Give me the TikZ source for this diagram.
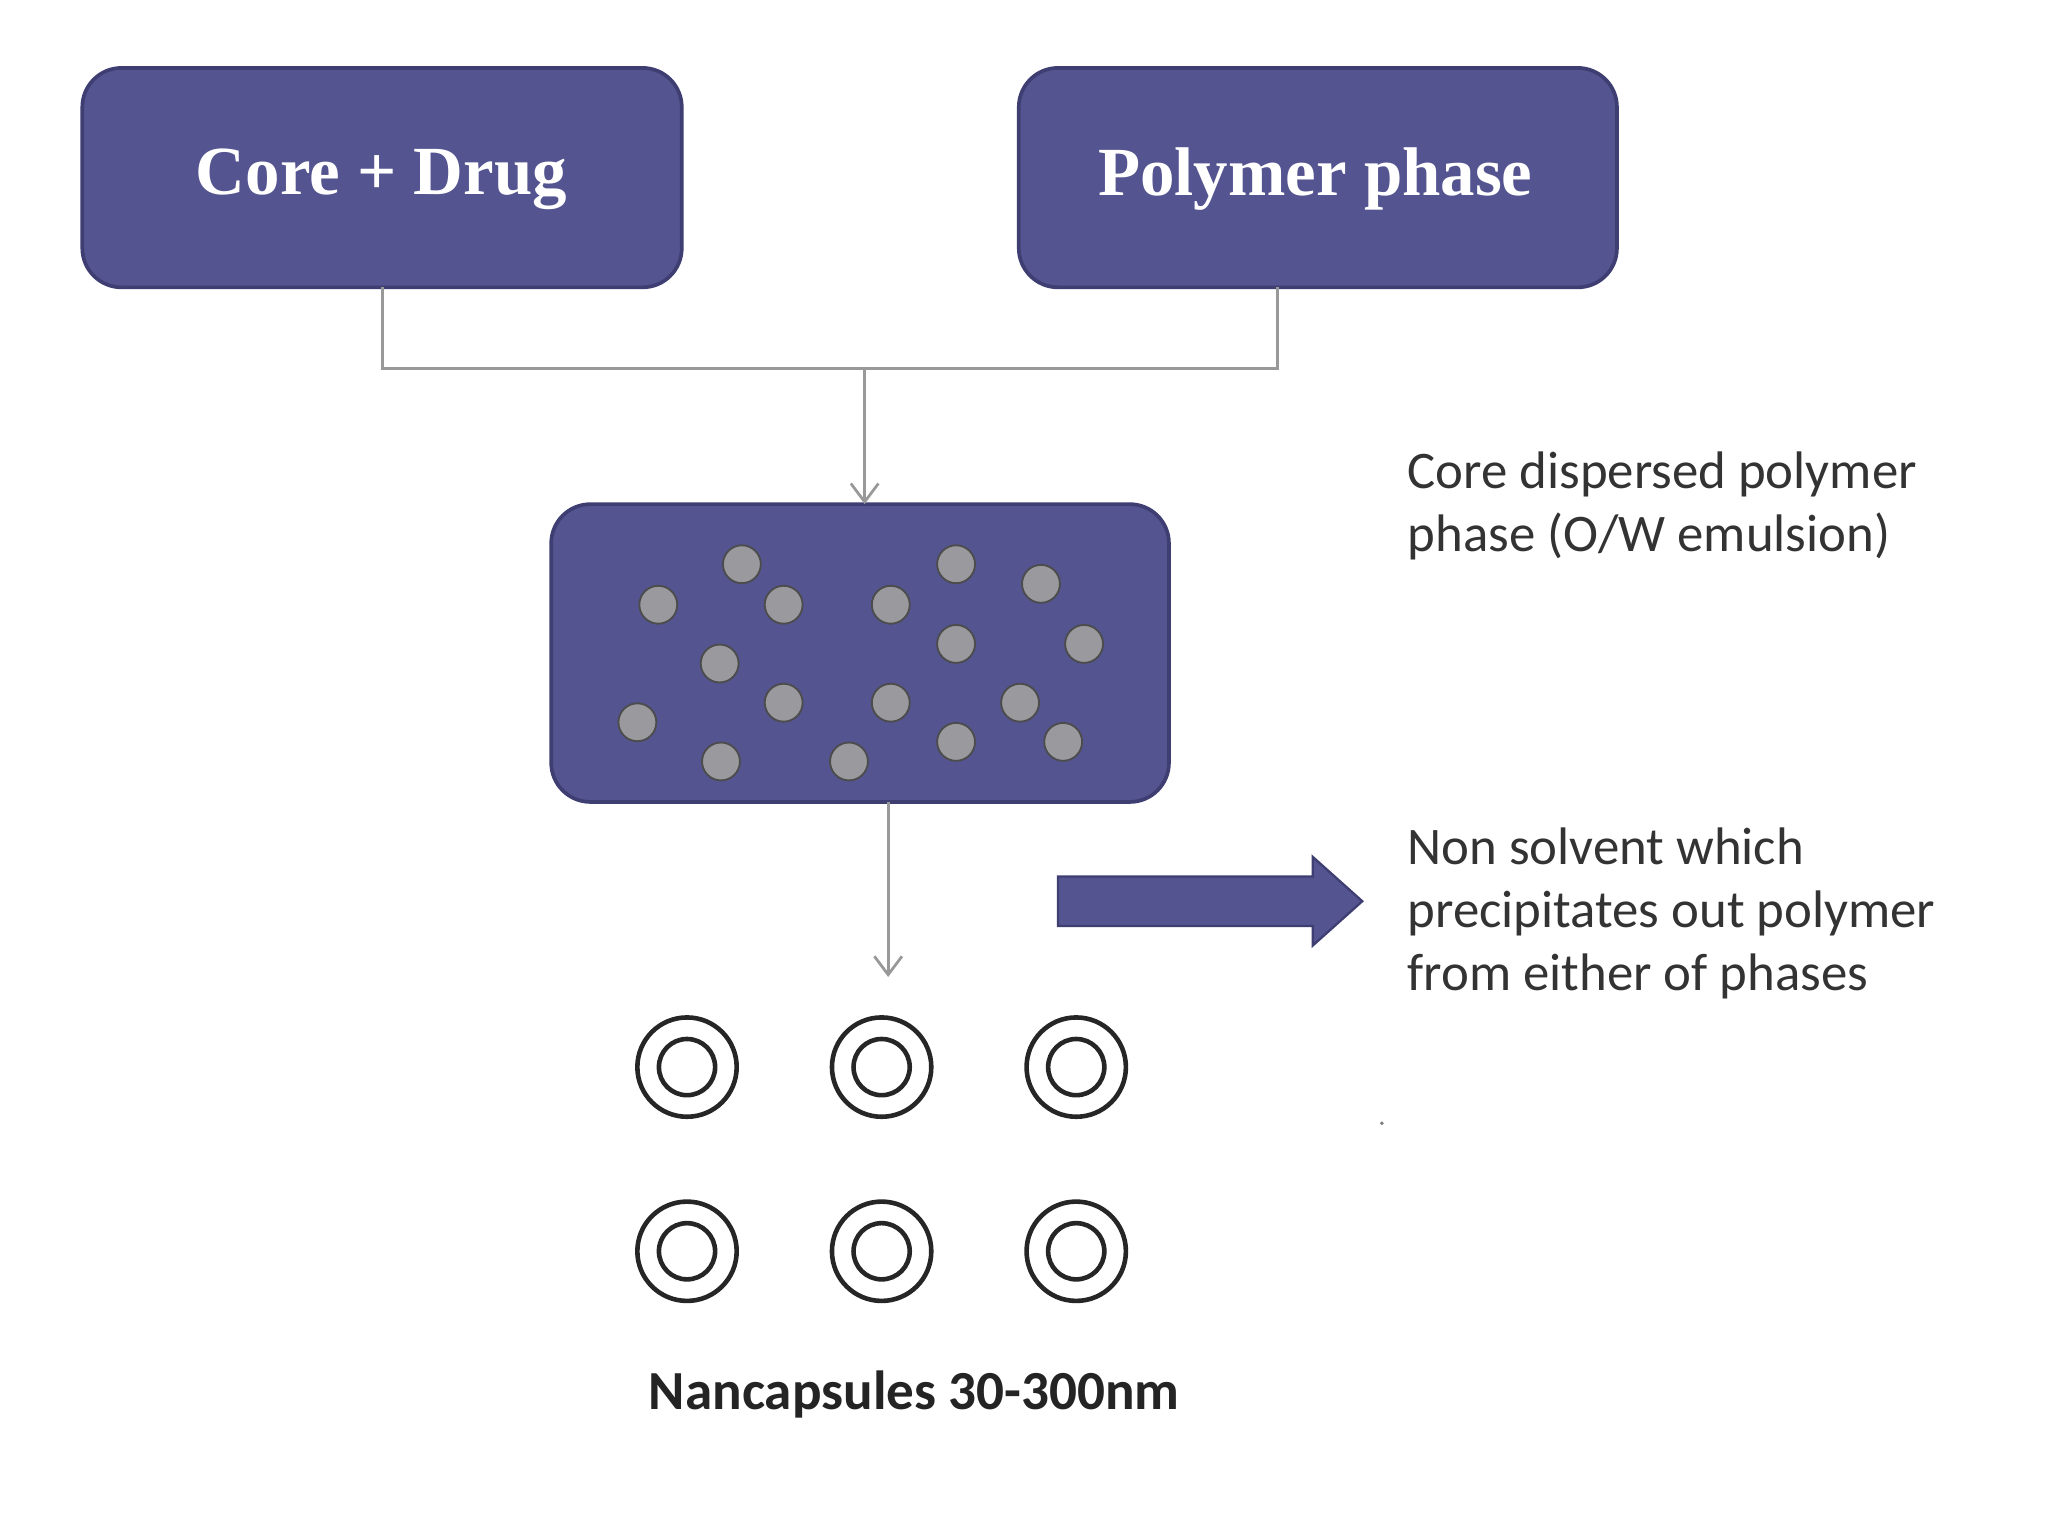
\documentclass[tikz,border=0pt]{standalone}
\usepackage{fontspec}
\setmainfont{Liberation Serif}
\newfontfamily\carlitofont{Carlito}
\usetikzlibrary{arrows.meta}
\definecolor{boxc}{HTML}{545490}
\definecolor{boxd}{HTML}{3E3E72}
\definecolor{dotc}{HTML}{9A9A9E}
\definecolor{txt}{HTML}{333333}
\begin{document}
\begin{tikzpicture}[x=0.01cm,y=-0.01cm,
  box/.style={draw=boxd,line width=0.8pt,fill=boxc,rounded corners=0.3cm},
  title/.style={text=white,font=\fontsize{15}{18}\selectfont\bfseries},
  conn/.style={draw=gray!80,line width=0.6pt},
  dot/.style={circle,fill=dotc,draw=gray!60!black,line width=0.4pt,minimum size=0.29cm,inner sep=0pt},
  lab/.style={text=txt,font=\carlitofont\fontsize{11.5}{13.7}\selectfont,align=left,anchor=north west,inner sep=0pt},
  caps/.style={draw=black!85,line width=1pt}]
\useasboundingbox (0,0) rectangle (1568,1176);
\fill[white] (0,0) rectangle (1568,1176);
\draw[box] (63,52) rectangle (522,220);
\draw[box] (780,52) rectangle (1238,220);
\node[title] (a) at (292,137) {Core + Drug};
\node[title] (b) at (1007,137) {Polymer phase};
\coordinate (a1) at (293,220); \coordinate (b1) at (978,220);
\coordinate (m) at (662,282);
\draw[conn] (a1) |- (m) -| (b1);
\draw[box] (422,386) rectangle (895,614);
\coordinate (c) at (662,386);
\draw[conn,-{Straight Barb[length=4pt,width=6pt]}] (m) -- (c);
\foreach \x/\y [count=\i] in {568/432,504/463,600/463,682/463,732/432,797/447,551/508,732/493,830/493,488/553,600/538,682/538,781/538,552/583,650/583,732/568,814/568}
  \node[dot] (d\i) at (\x,\y) {};
\coordinate (c2) at (680,614); \coordinate (e) at (680,748);
\draw[conn,-{Straight Barb[length=4pt,width=6pt]}] (c2) -- (e);
\fill[boxc,draw=boxd,line width=0.5pt] (810,671) -- (1005,671) -- (1005,656) -- (1043,690) -- (1005,724) -- (1005,709) -- (810,709) -- cycle;
\node[lab] (l1) at (1077,345) {Core dispersed polymer\\phase (O/W emulsion)};
\node[lab] (l2) at (1077,633) {Non solvent which\\precipitates out polymer\\from either of phases};
\foreach \x/\y [count=\i] in {526/817,675/817,824/817,526/958,675/958,824/958}{
  \draw[caps] (\x,\y) circle (0.38cm);
  \draw[caps] (\x,\y) circle (0.215cm);}
\node[text=txt!70!black,font=\carlitofont\bfseries\fontsize{12}{14}\selectfont] (n) at (700,1068) {Nancapsules 30-300nm};
\fill[gray] (1058,860) circle (0.015cm);
\end{tikzpicture}
\end{document}
